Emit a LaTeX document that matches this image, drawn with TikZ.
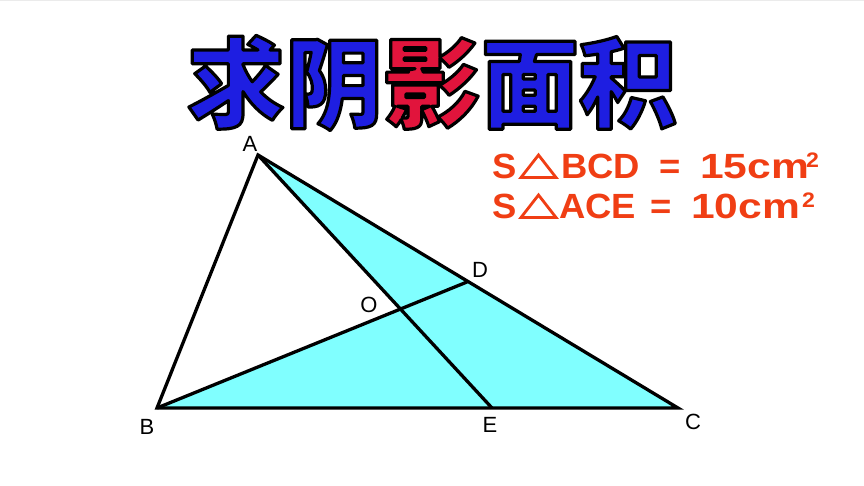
\documentclass[tikz,border=0pt]{standalone}
\usepackage{fontspec}
\usetikzlibrary{calc}
\setmainfont{Liberation Sans}
\newfontfamily\cjk{Noto Sans CJK SC}
\definecolor{cyanfill}{RGB}{128,255,255}
\definecolor{eqred}{RGB}{240,62,20}
\definecolor{ttlblue}{RGB}{30,30,225}
\definecolor{ttlred}{RGB}{225,20,60}
\newcommand{\outl}{\special{pdf:literal direct 0 0 0 RG 3.2 w 1 j 2 Tr}}
\newcommand{\outloff}{\special{pdf:literal direct 0 Tr 1 w}}
\tikzset{
  edge/.style={line width=3.3pt, line join=miter, draw=black},
  ptlabel/.style={font=\fontsize{22}{22}\selectfont, inner sep=0pt},
  eqtext/.style={font=\bfseries\fontsize{35}{35}\selectfont, text=eqred, inner sep=0pt, anchor=base west, xscale=1.04},
  eqnum/.style={eqtext, xscale=1.17},
  eqsup/.style={font=\bfseries\fontsize{21}{21}\selectfont, text=eqred, inner sep=0pt, anchor=base west, xscale=1.1},
  ttl/.style={font=\cjk\bfseries\fontsize{98}{98}\selectfont, inner sep=0pt}
}
\begin{document}
\begin{tikzpicture}[x=1pt,y=-1pt]
\useasboundingbox (0,0) rectangle (864,486);
\fill[white] (0,0) rectangle (864,486);
\fill[black!8] (0,0) rectangle (864,1.5);
% title
\node[ttl] (title) at (432,83) {\textcolor{ttlblue}{\outl 求阴}\textcolor{ttlred}{\outl 影}\textcolor{ttlblue}{\outl 面积}\outloff};
% geometry
\coordinate (A) at (258,155);
\coordinate (B) at (157,408);
\coordinate (C) at (678,408);
\coordinate (D) at (467,282);
\coordinate (E) at (492,408);
\coordinate (O) at (intersection of A--E and B--D);
\fill[cyanfill] (A) -- (C) -- (B) -- (O) -- cycle;
\draw[edge] (A) -- (B) -- (C) -- cycle;
\draw[edge] (A) -- (E);
\draw[edge] (B) -- (D);
\node[ptlabel] (la) at (250,144) {A};
\node[ptlabel] (lb) at (147,427) {B};
\node[ptlabel] (lc) at (693,422) {C};
\node[ptlabel] (ld) at (480,270) {D};
\node[ptlabel] (le) at (490,425) {E};
\node[ptlabel] (lo) at (369,305) {O};
% equations
\node[eqtext] (s1) at (492,179) {S};
\draw[eqred, line width=2.8pt, line join=miter] (521,177.5) -- (556,177.5) -- (538.5,155) -- cycle;
\node[eqtext] (b1) at (561,179) {BCD};
\node[eqtext] (e1) at (659,179) {=};
\node[eqnum] (n1) at (700,179) {15cm};
\node[eqsup] (p1) at (806,168) {2};
\node[eqtext] (s2) at (492,219) {S};
\draw[eqred, line width=2.8pt, line join=miter] (521,217.5) -- (556,217.5) -- (538.5,195) -- cycle;
\node[eqtext] (b2) at (559,219) {ACE};
\node[eqtext] (e2) at (650,219) {=};
\node[eqnum] (n2) at (691,219) {10cm};
\node[eqsup] (p2) at (802,208) {2};
\end{tikzpicture}
\end{document}
